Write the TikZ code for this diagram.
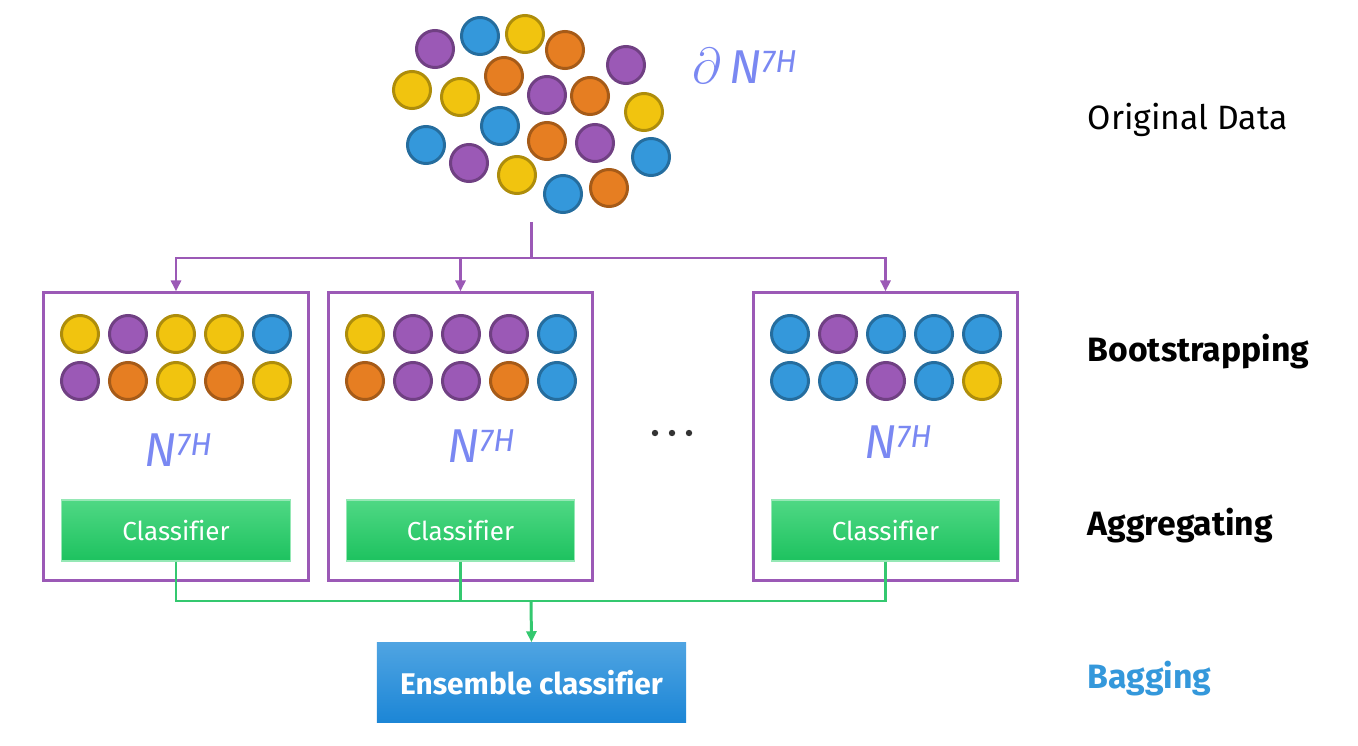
\documentclass[tikz,border=0pt]{standalone}
\usepackage{fontspec}
\setmainfont{Fira Sans}[Ligatures=NoCommon]
\usetikzlibrary{arrows.meta}
\definecolor{pu}{HTML}{9B59B6}
\definecolor{bl}{HTML}{3498DB}
\definecolor{ye}{HTML}{F1C40F}
\definecolor{or}{HTML}{E67E22}
\definecolor{ink}{HTML}{7A88F2}
\definecolor{gtop}{HTML}{4FD884}
\definecolor{gbot}{HTML}{1DC25F}
\definecolor{btop}{HTML}{4FA4E2}
\definecolor{bbot}{HTML}{1C86D6}
\newcommand{\nth}{N\raisebox{0.45ex}{\fontsize{9}{9}\selectfont 7H}}

\begin{document}
\begin{tikzpicture}[x=0.01cm, y=-0.01cm,
    ball/.style={circle, fill=#1, draw=#1!72!black, line width=0.85pt, minimum size=0.37cm, inner sep=0pt},
    bootbox/.style={draw=pu, line width=0.85pt, minimum width=2.64cm, minimum height=2.87cm, inner sep=0pt},
    clfbox/.style={top color=gtop, bottom color=gbot, draw=gtop!60!white, line width=0.3pt, minimum width=2.28cm, minimum height=0.61cm, text=white, font=\fontsize{7.4}{9}\selectfont},
    pline/.style={draw=pu, line width=0.85pt},
    gline/.style={draw=gbot!90!white, line width=0.85pt},
    tip/.style={-{Triangle[length=0.11cm,width=0.1cm]}},
    hand/.style={text=ink, font=\fontsize{13.5}{14}\selectfont\itshape},
    side/.style={anchor=west, inner sep=0pt, font=\fontsize{9.6}{11}\selectfont},
    sidebf/.style={side, font=\fontsize{9.6}{11}\selectfont\bfseries}]
    \useasboundingbox (0,0) rectangle (1358,746);

    % original data cloud
    \foreach \x/\y/\c in {435/49/pu, 480/36/bl, 525/34/ye, 565/50/or, 626/65/pu,
        412/90/ye, 460/97/ye, 504/76/or, 547/95/pu, 590/96/or, 644/112/ye,
        500/126/bl, 426/145/bl, 469/163/pu, 547/141/or, 595/143/pu, 651/157/bl,
        517/175/ye, 563/194/bl, 609/188/or}
        \node[ball=\c] at (\x,\y) {};
    \coordinate (data) at (531,222);
    \node[hand, anchor=west] (note) at (680,66) {$\partial$\,\nth};

    % bootstrap samples
    \node[bootbox] (boot1) at (176,436.5) {};
    \node[bootbox] (boot2) at (460.5,436.5) {};
    \node[bootbox] (boot3) at (885.5,436.5) {};
    \foreach \i/\c in {0/ye,1/pu,2/ye,3/ye,4/bl} \node[ball=\c] at (80+48*\i,334) {};
    \foreach \i/\c in {0/pu,1/or,2/ye,3/or,4/ye} \node[ball=\c] at (80+48*\i,381) {};
    \foreach \i/\c in {0/ye,1/pu,2/pu,3/pu,4/bl} \node[ball=\c] at (365+48*\i,334) {};
    \foreach \i/\c in {0/or,1/pu,2/pu,3/or,4/bl} \node[ball=\c] at (365+48*\i,381) {};
    \foreach \i/\c in {0/bl,1/pu,2/bl,3/bl,4/bl} \node[ball=\c] at (790+48*\i,334) {};
    \foreach \i/\c in {0/bl,1/bl,2/pu,3/bl,4/ye} \node[ball=\c] at (790+48*\i,381) {};
    \node[hand] (n1) at (178,450) {\nth};
    \node[hand] (n2) at (481,446) {\nth};
    \node[hand] (n3) at (898,442) {\nth};
    \foreach \x in {655,672,689} \fill[black!80] (\x,433) circle(0.032cm);

    % classifiers
    \node[clfbox] (clf1) at (176,530.5) {Classifier};
    \node[clfbox] (clf2) at (460.5,530.5) {Classifier};
    \node[clfbox] (clf3) at (885.5,530.5) {Classifier};
    \node[top color=btop, bottom color=bbot, minimum width=3.09cm, minimum height=0.79cm, text=white,
        font=\fontsize{8.5}{10}\selectfont\bfseries] (ens) at (531.5,682.5) {Ensemble classifier};

    % connectors
    \coordinate (split) at (531,258);
    \coordinate (join) at (531,601);
    \draw[pline] (data) -- (split);
    \draw[pline, tip] (split) -| (boot1.north);
    \draw[pline, tip] (split) -| (boot3.north);
    \draw[pline, tip] (split -| boot2.north) -- (boot2.north);
    \draw[gline] (clf1.south) |- (join);
    \draw[gline] (clf3.south) |- (join);
    \draw[gline] (clf2.south) -- (clf2.south |- join);
    \draw[gline, tip] (join) -- (ens.north);

    % stage labels
    \node[side] (lorig) at (1087,120) {Original Data};
    \node[sidebf] (lboot) at (1087,352) {Bootstrapping};
    \node[sidebf] (lagg) at (1087,526) {Aggregating};
    \node[sidebf, text=bl] (lbag) at (1087,679) {Bagging};
\end{tikzpicture}
\end{document}
